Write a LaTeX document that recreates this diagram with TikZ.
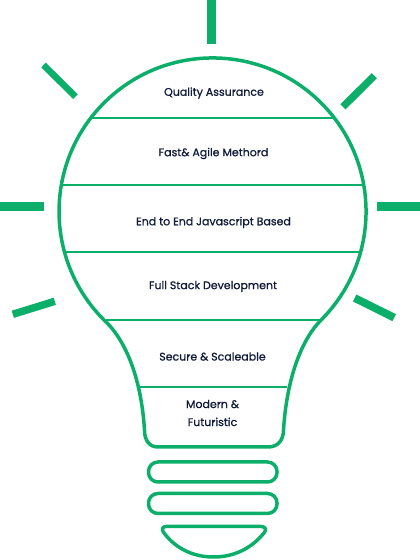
\documentclass[tikz,border=0pt]{standalone}
\usepackage{fontspec}
\setmainfont[FakeBold=0.9]{Poppins}
\definecolor{bulb}{HTML}{0CAF6A}
\definecolor{ink}{HTML}{101A38}
\tikzset{
  outline/.style={draw=bulb,line width=3.5pt,line join=round},
  band/.style={draw=bulb,line width=2pt},
  ray/.style={draw=bulb},
  lab/.style={text=ink,font=\fontsize{11}{18}\selectfont,align=center,inner sep=0pt}
}
\begin{document}
\begin{tikzpicture}[x=1pt,y=1pt]
\useasboundingbox (0,0) rectangle (420,560);
% rays
\draw[ray,line width=8.8pt] (211.5,560) -- (211.5,516);
\draw[ray,line width=6.6pt] (43.5,495) -- (75.5,463.3);
\draw[ray,line width=7.3pt] (374.3,484.3) -- (343,453.2);
\draw[ray,line width=9pt] (0,353.5) -- (44,353.5);
\draw[ray,line width=9pt] (377,353.5) -- (420,353.5);
\draw[ray,line width=7.5pt] (54.8,258.7) -- (12.8,245.7);
\draw[ray,line width=7.8pt] (354.7,262) -- (394.2,242.3);
% bulb
\draw[outline] (104,240) arc[start angle=225,end angle=-45,radius=153.5]
  .. controls (303,222) and (287,185) .. (283.5,130)
  .. controls (283.5,120) and (278,113) .. (268,113)
  -- (158,113)
  .. controls (149,113) and (144.5,120) .. (144.5,130)
  .. controls (141,185) and (124,222) .. (104,240) -- cycle;
% bands
\draw[band] (92,442) -- (334,442);
\draw[band] (62,375) -- (363,375);
\draw[band] (66,307.5) -- (359,307.5);
\draw[band] (106,240) -- (321,240);
\draw[band] (139,173) -- (287,173);
% base
\draw[outline,rounded corners=9.5pt] (148.5,78) rectangle (277,98);
\draw[outline,rounded corners=9.5pt] (148.5,46.5) rectangle (277,66.5);
\draw[outline,line join=round] (166,33.5) -- (261,33.5)
  .. controls (266,33.5) and (266.5,30) .. (264,27)
  .. controls (250,10) and (232,3) .. (213.5,3)
  .. controls (195,3) and (177,10) .. (164,27)
  .. controls (161.5,30) and (162,33.5) .. (166,33.5) -- cycle;
% labels
\node[lab] (qa) at (214,467) {Quality Assurance};
\node[lab] (fa) at (213.5,406.5) {Fast\& Agile Methord};
\node[lab] (ee) at (213.5,337.5) {End to End Javascript Based};
\node[lab] (fs) at (213,273.5) {Full Stack Development};
\node[lab] (ss) at (212.5,203.5) {Secure \& Scaleable};
\node[lab] (mf) at (212.5,147) {Modern \&\\Futuristic};
\end{tikzpicture}
\end{document}
